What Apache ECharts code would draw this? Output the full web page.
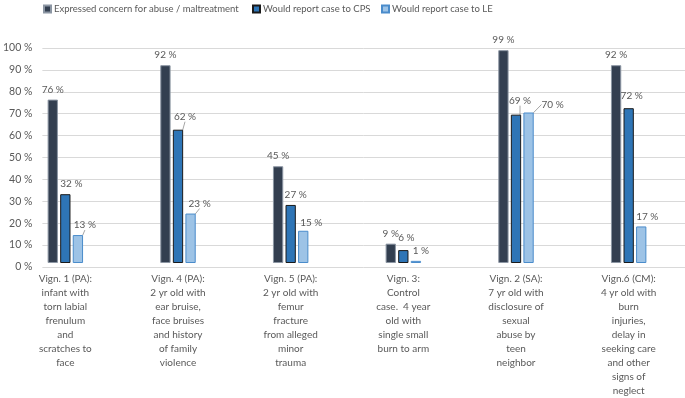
<!DOCTYPE html>
<html>
<head>
<meta charset="utf-8">
<script src="https://cdn.jsdelivr.net/npm/echarts@6/dist/echarts.min.js"></script>
<style>
  html, body { margin: 0; padding: 0; background: #fff; }
  #chart { width: 685px; height: 398px; }
</style>
</head>
<body>
<div id="chart"></div>
<script>
const vignettes = [
  "Vign. 1 (PA):\ninfant with\ntorn labial\nfrenulum\nand\nscratches to\nface",
  "Vign. 4 (PA):\n2 yr old with\near bruise,\nface bruises\nand history\nof family\nviolence",
  "Vign. 5 (PA):\n2 yr old with\nfemur\nfracture\nfrom alleged\nminor\ntrauma",
  "Vign. 3:\nControl\ncase.  4 year\nold with\nsingle small\nburn to arm",
  "Vign. 2 (SA):\n7 yr old with\ndisclosure of\nsexual\nabuse by\nteen\nneighbor",
  "Vign.6 (CM):\n4 yr old with\nburn\ninjuries,\ndelay in\nseeking care\nand other\nsigns of\nneglect"
];
const seriesNames = [
  "Expressed concern for abuse / maltreatment",
  "Would report case to CPS",
  "Would report case to LE"
];
const concern = [76, 92, 45, 9, 99, 92];
const reportCps = [32, 62, 27, 6, 69, 72];
const reportLe = [13, 23, 15, 1, 70, 17];
const yTicks = [0, 10, 20, 30, 40, 50, 60, 70, 80, 90, 100];

// label nudges (dx, dy) and which labels get a leader line
const labelShift = [
  [[0, 0], [0, 0], [0, 0], [0, 0], [0, 0], [0, 0]],
  [[6, 0], [7, -3], [5, 0], [3, -2], [4, -4], [3, -2]],
  [[7, 0], [9, 0], [8, 2], [5, 0], [24, 2], [6, 0]]
];
const leaderLines = [
  [false, false, false, false, false, false],
  [false, true, false, false, true, false],
  [true, true, false, false, true, false]
];
const legendLeft = [43, 252, 381];

const textColor = "#595959";
const font = "Lato, 'Open Sans', sans-serif";
const barStyles = [
  { color: "#333f50", borderColor: "#8c96a3" },
  { color: "#2e75b6", borderColor: "#1a1a1a" },
  { color: "#9dc3e6", borderColor: "#4a8ccb" }
];

const chart = echarts.init(document.getElementById("chart"));

const makeSeries = (values, idx) => ({
  name: seriesNames[idx],
  type: "bar",
  xAxisIndex: 1,
  yAxisIndex: 1,
  barWidth: 10.3,
  barGap: "22%",
  data: values.map((v, i) => ({
    value: v,
    labelLine: { show: leaderLines[idx][i] }
  })),
  itemStyle: { ...barStyles[idx], borderWidth: 1 },
  label: {
    show: true,
    position: "top",
    distance: 5,
    formatter: "{c} %",
    color: textColor,
    fontFamily: font,
    fontSize: 10
  },
  labelLine: { lineStyle: { color: "#a6a6a6", width: 1 } },
  labelLayout: (p) => ({
    dx: labelShift[idx][p.dataIndex][0],
    dy: labelShift[idx][p.dataIndex][1]
  })
});

// one legend per series so each marker sits where the original has it
const legends = seriesNames.map((name, i) => ({
  left: legendLeft[i],
  top: 4,
  padding: 0,
  itemWidth: 7,
  itemHeight: 7,
  icon: "rect",
  textStyle: { color: textColor, fontSize: 9.5, fontFamily: font, padding: [0, 0, 0, -2] },
  data: [name]
}));

const option = {
  animation: false,
  textStyle: { fontFamily: font },
  legend: legends,
  grid: [
    { left: 38, right: 0, top: 48, bottom: 131 },
    { left: 9, width: 704.4, top: 48, bottom: 131 }
  ],
  xAxis: [
    { gridIndex: 0, type: "value", show: false },
    {
      gridIndex: 1,
      type: "category",
      data: vignettes,
      axisLine: { show: false },
      axisTick: { show: false },
      axisLabel: {
        interval: 0,
        margin: 9,
        color: textColor,
        fontFamily: font,
        fontSize: 10,
        lineHeight: 14
      }
    }
  ],
  yAxis: [
    {
      gridIndex: 0,
      type: "value",
      min: yTicks[0],
      max: yTicks[yTicks.length - 1],
      interval: 10,
      axisLine: { show: false },
      axisTick: { show: false },
      axisLabel: {
        margin: 10,
        color: textColor,
        fontFamily: font,
        fontSize: 10.5,
        formatter: "{value} %"
      },
      splitLine: { lineStyle: { color: "#d9d9d9", width: 1 } }
    },
    {
      gridIndex: 1,
      type: "value",
      min: yTicks[0],
      max: yTicks[yTicks.length - 1],
      show: false
    }
  ],
  series: [concern, reportCps, reportLe].map(makeSeries)
};

chart.setOption(option);
</script>
</body>
</html>
